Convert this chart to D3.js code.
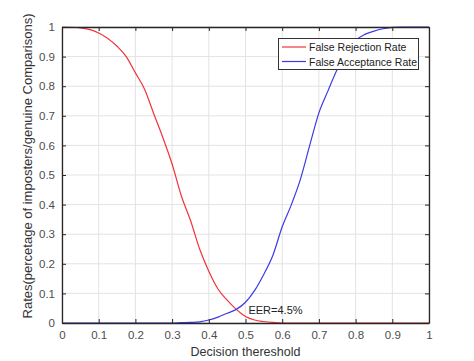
<!DOCTYPE html>
<html><head><meta charset="utf-8">
<script src="https://cdn.jsdelivr.net/npm/d3@7"></script>
<style>body{margin:0;background:#fff;}svg{display:block;font-family:"Liberation Sans",Arial,sans-serif;}</style>
</head><body><div id="chart"></div>
<script>
const thresholds = [0,0.05,0.1,0.15,0.175,0.2,0.225,0.25,0.275,0.3,0.325,0.35,0.375,0.4,0.425,0.45,0.475,0.5,0.525,0.55,0.575,0.6,0.625,0.65,0.675,0.7,0.725,0.75,0.775,0.8,0.825,0.85,0.875,0.9,0.925,0.95,1];
const frr = [1,0.997,0.98,0.935,0.9,0.845,0.79,0.707,0.626,0.537,0.43,0.347,0.25,0.175,0.115,0.077,0.046,0.022,0.01,0.005,0.002,0,0,0,0,0,0,0,0,0,0,0,0,0,0,0,0];
const far = [0,0,0,0,0,0,0,0,0,0,0.001,0.002,0.004,0.01,0.02,0.033,0.046,0.07,0.11,0.165,0.23,0.325,0.40,0.487,0.60,0.71,0.785,0.857,0.915,0.955,0.975,0.986,0.994,0.999,1,1,1];
const xTicks = [0,0.1,0.2,0.3,0.4,0.5,0.6,0.7,0.8,0.9,1];
const yTicks = [0,0.1,0.2,0.3,0.4,0.5,0.6,0.7,0.8,0.9,1];
const seriesNames = ["False Rejection Rate","False Acceptance Rate"];
const seriesColors = ["#f0333a","#3b3be6"];
const xLabel = "Decision thereshold";
const yLabel = "Rates(percetage of imposters/genuine Comparisons)";
const eerText = "EER=4.5%";

const W=474,H=361, m={l:62,t:27,r:45,b:38};
const iw=W-m.l-m.r, ih=H-m.t-m.b;
const svg=d3.select("#chart").append("svg").attr("width",W).attr("height",H);
const x=d3.scaleLinear().domain([0,1]).range([m.l,m.l+iw]);
const y=d3.scaleLinear().domain([0,1]).range([m.t+ih,m.t]);

// grid
const g=svg.append("g");
g.selectAll(".gx").data(xTicks).join("line").attr("x1",d=>x(d)).attr("x2",d=>x(d)).attr("y1",m.t).attr("y2",m.t+ih).attr("stroke","#e3e3e3").attr("stroke-width",1);
g.selectAll(".gy").data(yTicks).join("line").attr("y1",d=>y(d)).attr("y2",d=>y(d)).attr("x1",m.l).attr("x2",m.l+iw).attr("stroke","#e3e3e3").attr("stroke-width",1);

// curves
const line=d3.line().x((d,i)=>x(thresholds[i])).y(d=>y(d)).curve(d3.curveMonotoneX);
[frr,far].forEach((s,k)=>{
  svg.append("path").datum(s).attr("d",line).attr("fill","none").attr("stroke",seriesColors[k]).attr("stroke-width",1.2);
});

// axes (box, inward ticks)
const axCol="#262626";
const axB=svg.append("g").attr("transform",`translate(0,${m.t+ih})`).call(d3.axisBottom(x).tickValues(xTicks).tickSizeInner(-4).tickSizeOuter(0).tickPadding(8).tickFormat(d3.format("")));
const axL=svg.append("g").attr("transform",`translate(${m.l},0)`).call(d3.axisLeft(y).tickValues(yTicks).tickSizeInner(-4).tickSizeOuter(0).tickPadding(7).tickFormat(d3.format("")));
const axT=svg.append("g").attr("transform",`translate(0,${m.t})`).call(d3.axisTop(x).tickValues(xTicks).tickSizeInner(-4).tickSizeOuter(0).tickFormat(""));
const axR=svg.append("g").attr("transform",`translate(${m.l+iw},0)`).call(d3.axisRight(y).tickValues(yTicks).tickSizeInner(-4).tickSizeOuter(0).tickFormat(""));
[axB,axL,axT,axR].forEach(a=>{
  a.select(".domain").attr("stroke",axCol).attr("stroke-width",1.3);
  a.selectAll(".tick line").attr("stroke",axCol);
  a.selectAll("text").attr("fill","#4d4d4d").style("font-size","11.5px").style("font-family","'Liberation Sans',Arial,sans-serif");
});

// axis labels
svg.append("text").attr("x",x(0.5)).attr("y",356).attr("text-anchor","middle").attr("fill","#333").style("font-size","12.5px").text(xLabel);
svg.append("text").attr("transform",`translate(32,166) rotate(-90)`).attr("text-anchor","middle").attr("fill","#333").style("font-size","13px").text(yLabel);

// EER annotation
svg.append("text").attr("x",x(0.508)).attr("y",y(0.03)).attr("fill","#222").style("font-size","11px").text(eerText);

// legend
const lg=svg.append("g");
lg.append("rect").attr("x",278.5).attr("y",38.5).attr("width",140).attr("height",31).attr("fill","#fff").attr("stroke","#333").attr("stroke-width",1);
seriesNames.forEach((n,i)=>{
  const yy=47+i*14.5;
  lg.append("line").attr("x1",282).attr("x2",306).attr("y1",yy).attr("y2",yy).attr("stroke",seriesColors[i]).attr("stroke-width",1.2);
  lg.append("text").attr("x",309).attr("y",yy+4).attr("fill","#222").style("font-size","10.5px").text(n);
});
</script></body></html>
